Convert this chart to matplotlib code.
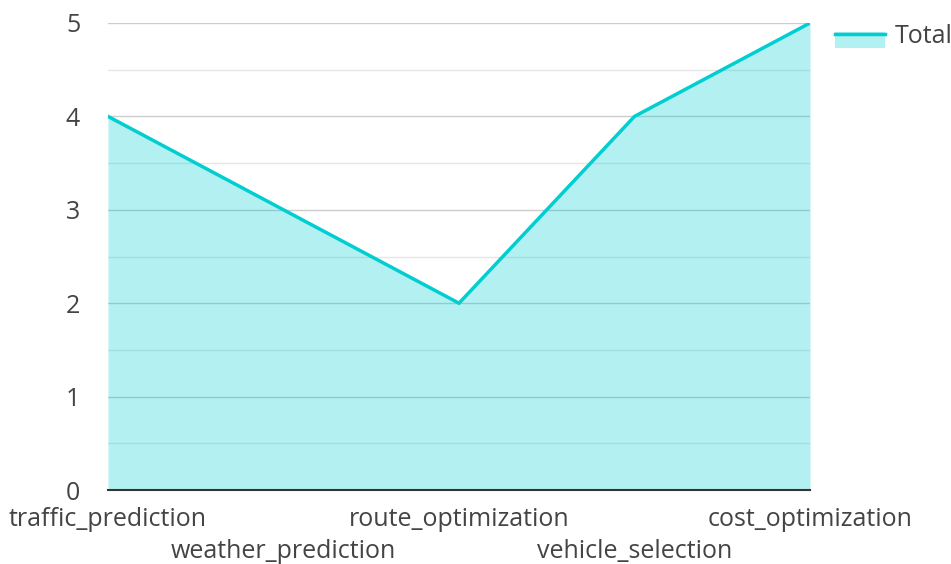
import matplotlib
matplotlib.use("Agg")
import matplotlib.pyplot as plt
from matplotlib.patches import Rectangle
from matplotlib.lines import Line2D
from matplotlib.legend_handler import HandlerBase

categories = ["traffic_prediction", "weather_prediction", "route_optimization",
              "vehicle_selection", "cost_optimization"]
totals = [4, 3, 2, 4, 5]
series_name = "Total"

plt.rcParams['font.family'] = ['Open Sans', 'DejaVu Sans']
color = "#00CED1"
text_color = "#444444"
fs = 18

fig = plt.figure(figsize=(9.51, 5.64), dpi=100)
ax = fig.add_axes([108/951, 1 - 490/564, (810-108)/951, (490-23)/564])

x = list(range(len(categories)))
ax.set_xlim(0, len(categories) - 1)
ax.set_ylim(0, 5)

# grid
for v in [0.5, 1.5, 2.5, 3.5, 4.5]:
    ax.axhline(v, color="#e6e6e6", lw=1, zorder=1)
for v in [1, 2, 3, 4, 5]:
    ax.axhline(v, color="#cccccc", lw=1, zorder=1)

ax.fill_between(x, totals, 0, color=color, alpha=0.3, lw=0, zorder=2)
ax.plot(x, totals, color=color, lw=2.5, zorder=3, solid_joinstyle="miter")

for s in ["top", "right", "left"]:
    ax.spines[s].set_visible(False)
ax.spines["bottom"].set_color("#333333")
ax.spines["bottom"].set_linewidth(1.5)
ax.spines["bottom"].set_zorder(4)

ax.set_yticks([0, 1, 2, 3, 4, 5])
ax.tick_params(axis="y", length=0, pad=20, labelsize=fs, labelcolor=text_color)

ax.set_xticks(x[0::2])
ax.set_xticklabels(categories[0::2])
ax.set_xticks(x[1::2], minor=True)
ax.set_xticklabels(categories[1::2], minor=True)
ax.tick_params(axis="x", which="major", length=0, pad=12.5, labelsize=fs, labelcolor=text_color)
ax.tick_params(axis="x", which="minor", length=0, pad=35.5, labelsize=fs, labelcolor=text_color)


class AreaHandler(HandlerBase):
    def create_artists(self, legend, orig_handle, xdescent, ydescent,
                       width, height, fontsize, trans):
        ly = 0.5 * height - ydescent
        rect = Rectangle((-xdescent, ly - 0.78 * height), width, 0.9 * height,
                         facecolor=color, alpha=0.3, lw=0, transform=trans)
        line = Line2D([-xdescent, -xdescent + width], [ly, ly],
                      color=color, lw=2.5, transform=trans)
        return [rect, line]


handle = Rectangle((0, 0), 1, 1)
leg = fig.legend([handle], [series_name], loc="upper left",
                 bbox_to_anchor=(835/951, 1 - 24/564), frameon=False,
                 fontsize=fs, labelcolor=text_color, handlelength=2.0,
                 handletextpad=0.4, borderpad=0, borderaxespad=0,
                 handler_map={Rectangle: AreaHandler()})

fig.savefig("out.png", dpi=100)
